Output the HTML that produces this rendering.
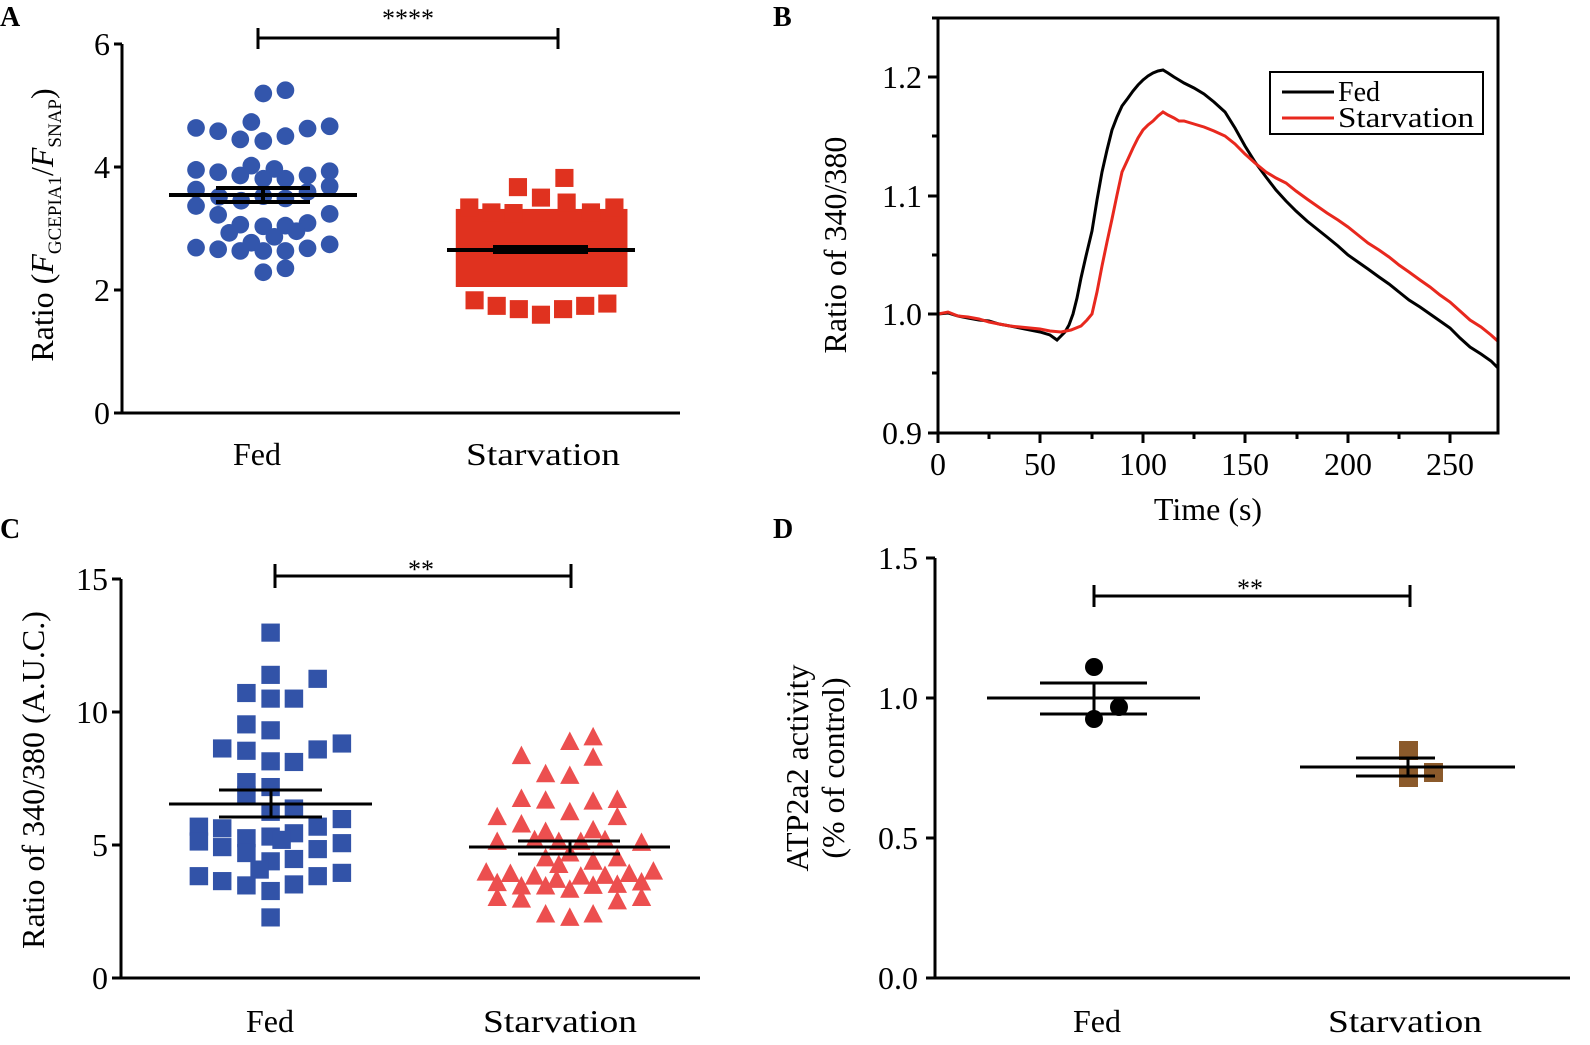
<!DOCTYPE html>
<html><head><meta charset="utf-8"><style>
html,body{margin:0;padding:0;background:#fff;}
svg{display:block;font-family:"Liberation Serif",serif;}
</style></head><body>
<svg width="1590" height="1045" viewBox="0 0 1590 1045" xmlns="http://www.w3.org/2000/svg">
<!-- ===== Panel A ===== -->
<text x="0" y="26" font-size="28" font-weight="bold">A</text>
<g stroke="#000" stroke-width="3" fill="none">
<line x1="122" y1="44" x2="122" y2="414"/>
<line x1="114" y1="413" x2="680" y2="413"/>
<line x1="114" y1="44" x2="122" y2="44"/><line x1="114" y1="167" x2="122" y2="167"/><line x1="114" y1="290" x2="122" y2="290"/>
<line x1="258" y1="38" x2="558" y2="38"/><line x1="258" y1="28" x2="258" y2="49"/><line x1="558" y1="28" x2="558" y2="49"/>
</g>
<g font-size="32" text-anchor="end"><text x="110" y="55">6</text><text x="110" y="178">4</text><text x="110" y="301">2</text><text x="110" y="424">0</text></g>
<text x="408" y="27" font-size="26" text-anchor="middle">****</text>
<text x="257" y="465" font-size="32" text-anchor="middle">Fed</text>
<text x="543" y="465" font-size="32" text-anchor="middle" textLength="154" lengthAdjust="spacingAndGlyphs">Starvation</text>
<text transform="translate(53,225) rotate(-90)" font-size="32" text-anchor="middle">Ratio (<tspan font-style="italic">F</tspan><tspan font-size="19" dy="8">GCEPIA1</tspan><tspan dy="-8">/</tspan><tspan font-style="italic">F</tspan><tspan font-size="19" dy="8">SNAP</tspan><tspan dy="-8">)</tspan></text>
<g transform="matrix(0.4425,0,0,0.328,0,0)" fill="#3356ac">
<ellipse cx="595" cy="285" rx="20" ry="27"/><ellipse cx="645" cy="275" rx="20" ry="27"/><ellipse cx="443" cy="390" rx="20" ry="27"/><ellipse cx="493" cy="400" rx="20" ry="27"/><ellipse cx="568" cy="372" rx="20" ry="27"/><ellipse cx="695" cy="392" rx="20" ry="27"/><ellipse cx="745" cy="385" rx="20" ry="27"/><ellipse cx="543" cy="425" rx="20" ry="27"/><ellipse cx="595" cy="430" rx="20" ry="27"/><ellipse cx="645" cy="415" rx="20" ry="27"/><ellipse cx="443" cy="518" rx="20" ry="27"/><ellipse cx="493" cy="525" rx="20" ry="27"/><ellipse cx="568" cy="505" rx="20" ry="27"/><ellipse cx="620" cy="515" rx="20" ry="27"/><ellipse cx="543" cy="535" rx="20" ry="27"/><ellipse cx="595" cy="545" rx="20" ry="27"/><ellipse cx="645" cy="545" rx="20" ry="27"/><ellipse cx="695" cy="535" rx="20" ry="27"/><ellipse cx="745" cy="522" rx="20" ry="27"/><ellipse cx="443" cy="578" rx="20" ry="27"/><ellipse cx="495" cy="600" rx="20" ry="27"/><ellipse cx="545" cy="612" rx="20" ry="27"/><ellipse cx="595" cy="598" rx="20" ry="27"/><ellipse cx="645" cy="605" rx="20" ry="27"/><ellipse cx="695" cy="585" rx="20" ry="27"/><ellipse cx="745" cy="568" rx="20" ry="27"/><ellipse cx="443" cy="628" rx="20" ry="27"/><ellipse cx="493" cy="655" rx="20" ry="27"/><ellipse cx="543" cy="685" rx="20" ry="27"/><ellipse cx="595" cy="690" rx="20" ry="27"/><ellipse cx="645" cy="688" rx="20" ry="27"/><ellipse cx="695" cy="680" rx="20" ry="27"/><ellipse cx="745" cy="652" rx="20" ry="27"/><ellipse cx="518" cy="710" rx="20" ry="27"/><ellipse cx="568" cy="740" rx="20" ry="27"/><ellipse cx="620" cy="722" rx="20" ry="27"/><ellipse cx="670" cy="705" rx="20" ry="27"/><ellipse cx="443" cy="755" rx="20" ry="27"/><ellipse cx="493" cy="760" rx="20" ry="27"/><ellipse cx="543" cy="765" rx="20" ry="27"/><ellipse cx="595" cy="765" rx="20" ry="27"/><ellipse cx="645" cy="765" rx="20" ry="27"/><ellipse cx="695" cy="757" rx="20" ry="27"/><ellipse cx="745" cy="745" rx="20" ry="27"/><ellipse cx="595" cy="830" rx="20" ry="27"/><ellipse cx="645" cy="818" rx="20" ry="27"/>
</g>
<g transform="matrix(0.4425,0,0,0.328,0,0)" fill="#e0321f">
<rect x="1030" y="637" width="388" height="238"/>
<rect x="1150" y="543" width="41" height="55"/><rect x="1255" y="515" width="41" height="55"/><rect x="1202" y="575" width="41" height="55"/><rect x="1260" y="590" width="41" height="55"/><rect x="1040" y="605" width="41" height="55"/><rect x="1090" y="620" width="41" height="55"/><rect x="1140" y="622" width="41" height="55"/><rect x="1315" y="620" width="41" height="55"/><rect x="1368" y="605" width="41" height="55"/>
<rect x="1052" y="888" width="41" height="55"/><rect x="1102" y="905" width="41" height="55"/><rect x="1152" y="915" width="41" height="55"/><rect x="1202" y="932" width="41" height="55"/><rect x="1252" y="915" width="41" height="55"/><rect x="1302" y="905" width="41" height="55"/><rect x="1352" y="898" width="41" height="55"/>
</g>
<g stroke="#000" stroke-width="4"><line x1="169" y1="195" x2="357" y2="195"/><line x1="216" y1="188" x2="310" y2="188"/><line x1="216" y1="202" x2="310" y2="202"/><line x1="263" y1="188" x2="263" y2="202"/>
<line x1="447" y1="250" x2="635" y2="250"/></g>
<rect x="493" y="245" width="95" height="9" fill="#000"/>

<!-- ===== Panel B ===== -->
<text x="773" y="26" font-size="28" font-weight="bold">B</text>
<svg x="938" y="18" width="560" height="415" overflow="hidden">
<g transform="translate(-938,-18)" fill="none" stroke-width="3">
<polyline stroke="#000" points="938,314 948,313 958,316 968,318 979,320 989,321 999,324 1010,326 1020,328 1030,330 1040,332 1050,335 1057,340 1062,335 1065,332 1069,325 1073,314 1077,298 1081,278 1086,256 1092,231 1097,200 1102,172 1107,150 1112,130 1117,117 1122,106 1128,98 1133,91 1138,85 1143,80 1148,76 1153,73 1158,71 1163,70 1168,73 1174,77 1179,80 1184,83 1194,88 1204,94 1214,102 1225,112 1235,128 1245,146 1255,162 1266,177 1276,190 1286,201 1296,211 1307,221 1317,229 1327,237 1338,246 1348,255 1358,262 1368,269 1379,277 1389,284 1399,292 1409,300 1420,307 1430,314 1440,321 1450,328 1460,338 1470,347 1481,354 1491,361 1501,371"/>
<polyline stroke="#e8281e" points="938,314 948,312 958,316 968,317 979,319 989,322 999,324 1010,326 1020,327 1030,328 1040,329 1050,331 1061,332 1071,330 1081,326 1087,320 1092,314 1097,292 1102,266 1107,242 1112,219 1117,195 1122,172 1128,159 1133,148 1138,138 1143,130 1148,125 1153,121 1158,116 1163,112 1168,115 1174,118 1179,121 1184,121 1194,124 1204,127 1214,131 1225,136 1235,144 1245,154 1255,163 1266,172 1276,178 1286,183 1296,191 1307,199 1317,206 1327,213 1338,220 1348,227 1358,235 1368,243 1379,250 1389,257 1399,265 1409,272 1420,280 1430,287 1440,295 1450,302 1460,311 1470,320 1481,327 1491,335 1501,344"/>
</g></svg>
<g stroke="#000" stroke-width="3" fill="none">
<rect x="938" y="18" width="560" height="415"/>
<line x1="928" y1="77" x2="938" y2="77"/><line x1="928" y1="196" x2="938" y2="196"/><line x1="928" y1="314" x2="938" y2="314"/><line x1="928" y1="433" x2="938" y2="433"/>
<line x1="932" y1="136" x2="938" y2="136"/><line x1="932" y1="255" x2="938" y2="255"/><line x1="932" y1="373" x2="938" y2="373"/><line x1="932" y1="18" x2="938" y2="18"/>
<line x1="938" y1="433" x2="938" y2="443"/><line x1="1040" y1="433" x2="1040" y2="443"/><line x1="1143" y1="433" x2="1143" y2="443"/><line x1="1245" y1="433" x2="1245" y2="443"/><line x1="1348" y1="433" x2="1348" y2="443"/><line x1="1450" y1="433" x2="1450" y2="443"/>
<line x1="989" y1="433" x2="989" y2="439"/><line x1="1092" y1="433" x2="1092" y2="439"/><line x1="1194" y1="433" x2="1194" y2="439"/><line x1="1297" y1="433" x2="1297" y2="439"/><line x1="1399" y1="433" x2="1399" y2="439"/>
</g>
<g font-size="32" text-anchor="end"><text x="922" y="88">1.2</text><text x="922" y="207">1.1</text><text x="922" y="325">1.0</text><text x="922" y="444">0.9</text></g>
<g font-size="32" text-anchor="middle"><text x="938" y="475">0</text><text x="1040" y="475">50</text><text x="1143" y="475">100</text><text x="1245" y="475">150</text><text x="1348" y="475">200</text><text x="1450" y="475">250</text></g>
<text x="1208" y="520" font-size="32" text-anchor="middle">Time (s)</text>
<text transform="translate(846,245) rotate(-90)" font-size="32" text-anchor="middle">Ratio of 340/380</text>
<rect x="1270" y="72" width="213" height="62" fill="#fff" stroke="#000" stroke-width="2"/>
<line x1="1282" y1="92" x2="1334" y2="92" stroke="#000" stroke-width="3"/>
<line x1="1282" y1="118" x2="1334" y2="118" stroke="#e8281e" stroke-width="3"/>
<text x="1338" y="101" font-size="28">Fed</text>
<text x="1338" y="127" font-size="28" textLength="136" lengthAdjust="spacingAndGlyphs">Starvation</text>

<!-- ===== Panel C ===== -->
<text x="0" y="538" font-size="28" font-weight="bold">C</text>
<g stroke="#000" stroke-width="3" fill="none">
<line x1="121" y1="579" x2="121" y2="979"/>
<line x1="112" y1="978" x2="700" y2="978"/>
<line x1="112" y1="579" x2="121" y2="579"/><line x1="112" y1="712" x2="121" y2="712"/><line x1="112" y1="845" x2="121" y2="845"/>
<line x1="275" y1="576" x2="571" y2="576"/><line x1="275" y1="564" x2="275" y2="588"/><line x1="571" y1="564" x2="571" y2="588"/>
</g>
<g font-size="32" text-anchor="end"><text x="108" y="590">15</text><text x="108" y="723">10</text><text x="108" y="856">5</text><text x="108" y="989">0</text></g>
<text x="421" y="578" font-size="26" text-anchor="middle">**</text>
<text x="270" y="1032" font-size="32" text-anchor="middle">Fed</text>
<text x="560" y="1032" font-size="32" text-anchor="middle" textLength="154" lengthAdjust="spacingAndGlyphs">Starvation</text>
<text transform="translate(44,780) rotate(-90)" font-size="32" text-anchor="middle">Ratio of 340/380 (A.U.C.)</text>
<g transform="matrix(0.44,0,0,0.33,0,513)" fill="#3253a8">
<g transform="translate(-21,-27)">
<rect x="615" y="362" width="42" height="55"/><rect x="615" y="490" width="42" height="55"/><rect x="722" y="502" width="42" height="55"/><rect x="560" y="545" width="42" height="55"/><rect x="615" y="562" width="42" height="55"/><rect x="668" y="562" width="42" height="55"/><rect x="560" y="640" width="42" height="55"/><rect x="615" y="658" width="42" height="55"/><rect x="505" y="713" width="42" height="55"/><rect x="560" y="720" width="42" height="55"/><rect x="722" y="716" width="42" height="55"/><rect x="777" y="698" width="42" height="55"/><rect x="615" y="752" width="42" height="55"/><rect x="668" y="754" width="42" height="55"/><rect x="560" y="815" width="42" height="55"/><rect x="615" y="830" width="42" height="55"/><rect x="560" y="855" width="42" height="55"/><rect x="668" y="895" width="42" height="55"/><rect x="615" y="905" width="42" height="55"/><rect x="452" y="950" width="42" height="55"/><rect x="505" y="955" width="42" height="55"/><rect x="560" y="985" width="42" height="55"/><rect x="615" y="980" width="42" height="55"/><rect x="668" y="970" width="42" height="55"/><rect x="722" y="950" width="42" height="55"/><rect x="777" y="927" width="42" height="55"/><rect x="452" y="995" width="42" height="55"/><rect x="505" y="1012" width="42" height="55"/><rect x="560" y="1030" width="42" height="55"/><rect x="615" y="1055" width="42" height="55"/><rect x="668" y="1048" width="42" height="55"/><rect x="722" y="1018" width="42" height="55"/><rect x="777" y="1000" width="42" height="55"/><rect x="640" y="990" width="42" height="55"/><rect x="590" y="1080" width="42" height="55"/><rect x="452" y="1100" width="42" height="55"/><rect x="505" y="1115" width="42" height="55"/><rect x="560" y="1128" width="42" height="55"/><rect x="615" y="1145" width="42" height="55"/><rect x="668" y="1125" width="42" height="55"/><rect x="722" y="1100" width="42" height="55"/><rect x="777" y="1090" width="42" height="55"/><rect x="615" y="1225" width="42" height="55"/>
</g></g>
<g transform="matrix(0.44,0,0,0.33,0,513)" fill="#ec4f4f">
<defs><path id="tri" d="M0,-30 L22,26 L-22,26 Z"/></defs>
<use href="#tri" x="1348" y="678"/><use href="#tri" x="1295" y="692"/><use href="#tri" x="1185" y="735"/><use href="#tri" x="1348" y="740"/><use href="#tri" x="1240" y="790"/><use href="#tri" x="1295" y="795"/><use href="#tri" x="1185" y="865"/><use href="#tri" x="1240" y="870"/><use href="#tri" x="1348" y="873"/><use href="#tri" x="1403" y="868"/><use href="#tri" x="1130" y="920"/><use href="#tri" x="1295" y="905"/><use href="#tri" x="1403" y="920"/><use href="#tri" x="1185" y="942"/><use href="#tri" x="1240" y="965"/><use href="#tri" x="1348" y="960"/><use href="#tri" x="1215" y="990"/><use href="#tri" x="1270" y="995"/><use href="#tri" x="1320" y="995"/><use href="#tri" x="1375" y="990"/><use href="#tri" x="1130" y="995"/><use href="#tri" x="1458" y="998"/><use href="#tri" x="1240" y="1045"/><use href="#tri" x="1295" y="1030"/><use href="#tri" x="1348" y="1055"/><use href="#tri" x="1403" y="1045"/><use href="#tri" x="1270" y="1065"/><use href="#tri" x="1105" y="1088"/><use href="#tri" x="1160" y="1092"/><use href="#tri" x="1215" y="1100"/><use href="#tri" x="1320" y="1100"/><use href="#tri" x="1375" y="1098"/><use href="#tri" x="1430" y="1092"/><use href="#tri" x="1485" y="1085"/><use href="#tri" x="1130" y="1120"/><use href="#tri" x="1185" y="1130"/><use href="#tri" x="1240" y="1130"/><use href="#tri" x="1295" y="1140"/><use href="#tri" x="1348" y="1128"/><use href="#tri" x="1403" y="1125"/><use href="#tri" x="1458" y="1118"/><use href="#tri" x="1130" y="1165"/><use href="#tri" x="1185" y="1170"/><use href="#tri" x="1403" y="1175"/><use href="#tri" x="1458" y="1165"/><use href="#tri" x="1240" y="1215"/><use href="#tri" x="1295" y="1225"/><use href="#tri" x="1348" y="1215"/><use href="#tri" x="1265" y="1110"/>
</g>
<g stroke="#000" stroke-width="3">
<line x1="169" y1="804" x2="372" y2="804"/><line x1="219" y1="790" x2="322" y2="790"/><line x1="219" y1="817" x2="322" y2="817"/><line x1="271" y1="790" x2="271" y2="817"/>
<line x1="469" y1="847" x2="670" y2="847"/><line x1="518" y1="841" x2="620" y2="841"/><line x1="518" y1="854" x2="620" y2="854"/><line x1="570" y1="841" x2="570" y2="854"/>
</g>

<!-- ===== Panel D ===== -->
<text x="773" y="538" font-size="28" font-weight="bold">D</text>
<g stroke="#000" stroke-width="3" fill="none">
<line x1="935" y1="558" x2="935" y2="979"/>
<line x1="926" y1="978" x2="1570" y2="978"/>
<line x1="926" y1="558" x2="935" y2="558"/><line x1="926" y1="698" x2="935" y2="698"/><line x1="926" y1="838" x2="935" y2="838"/>
<line x1="1094" y1="596" x2="1410" y2="596"/><line x1="1094" y1="585" x2="1094" y2="607"/><line x1="1410" y1="585" x2="1410" y2="607"/>
</g>
<g font-size="32" text-anchor="end"><text x="918" y="569">1.5</text><text x="918" y="709">1.0</text><text x="918" y="849">0.5</text><text x="918" y="989">0.0</text></g>
<text x="1250" y="597" font-size="26" text-anchor="middle">**</text>
<text x="1097" y="1032" font-size="32" text-anchor="middle">Fed</text>
<text x="1405" y="1032" font-size="32" text-anchor="middle" textLength="154" lengthAdjust="spacingAndGlyphs">Starvation</text>
<text transform="translate(808,768) rotate(-90)" font-size="32" text-anchor="middle">ATP2a2 activity</text>
<text transform="translate(844,768) rotate(-90)" font-size="32" text-anchor="middle">(% of control)</text>
<g fill="#000"><circle cx="1094" cy="667" r="9"/><circle cx="1119" cy="707" r="9"/><circle cx="1094" cy="719" r="9"/></g>
<g fill="#8b5a2b"><rect x="1399" y="741" width="19" height="19"/><rect x="1399" y="768" width="19" height="19"/><rect x="1424" y="763" width="19" height="19"/></g>
<g stroke="#000" stroke-width="3">
<line x1="987" y1="698" x2="1200" y2="698"/><line x1="1040" y1="683" x2="1147" y2="683"/><line x1="1040" y1="714" x2="1147" y2="714"/><line x1="1094" y1="683" x2="1094" y2="714"/>
<line x1="1300" y1="767" x2="1515" y2="767"/><line x1="1356" y1="758" x2="1435" y2="758"/><line x1="1356" y1="776" x2="1435" y2="776"/><line x1="1408" y1="758" x2="1408" y2="776"/>
</g>
</svg>
</body></html>
